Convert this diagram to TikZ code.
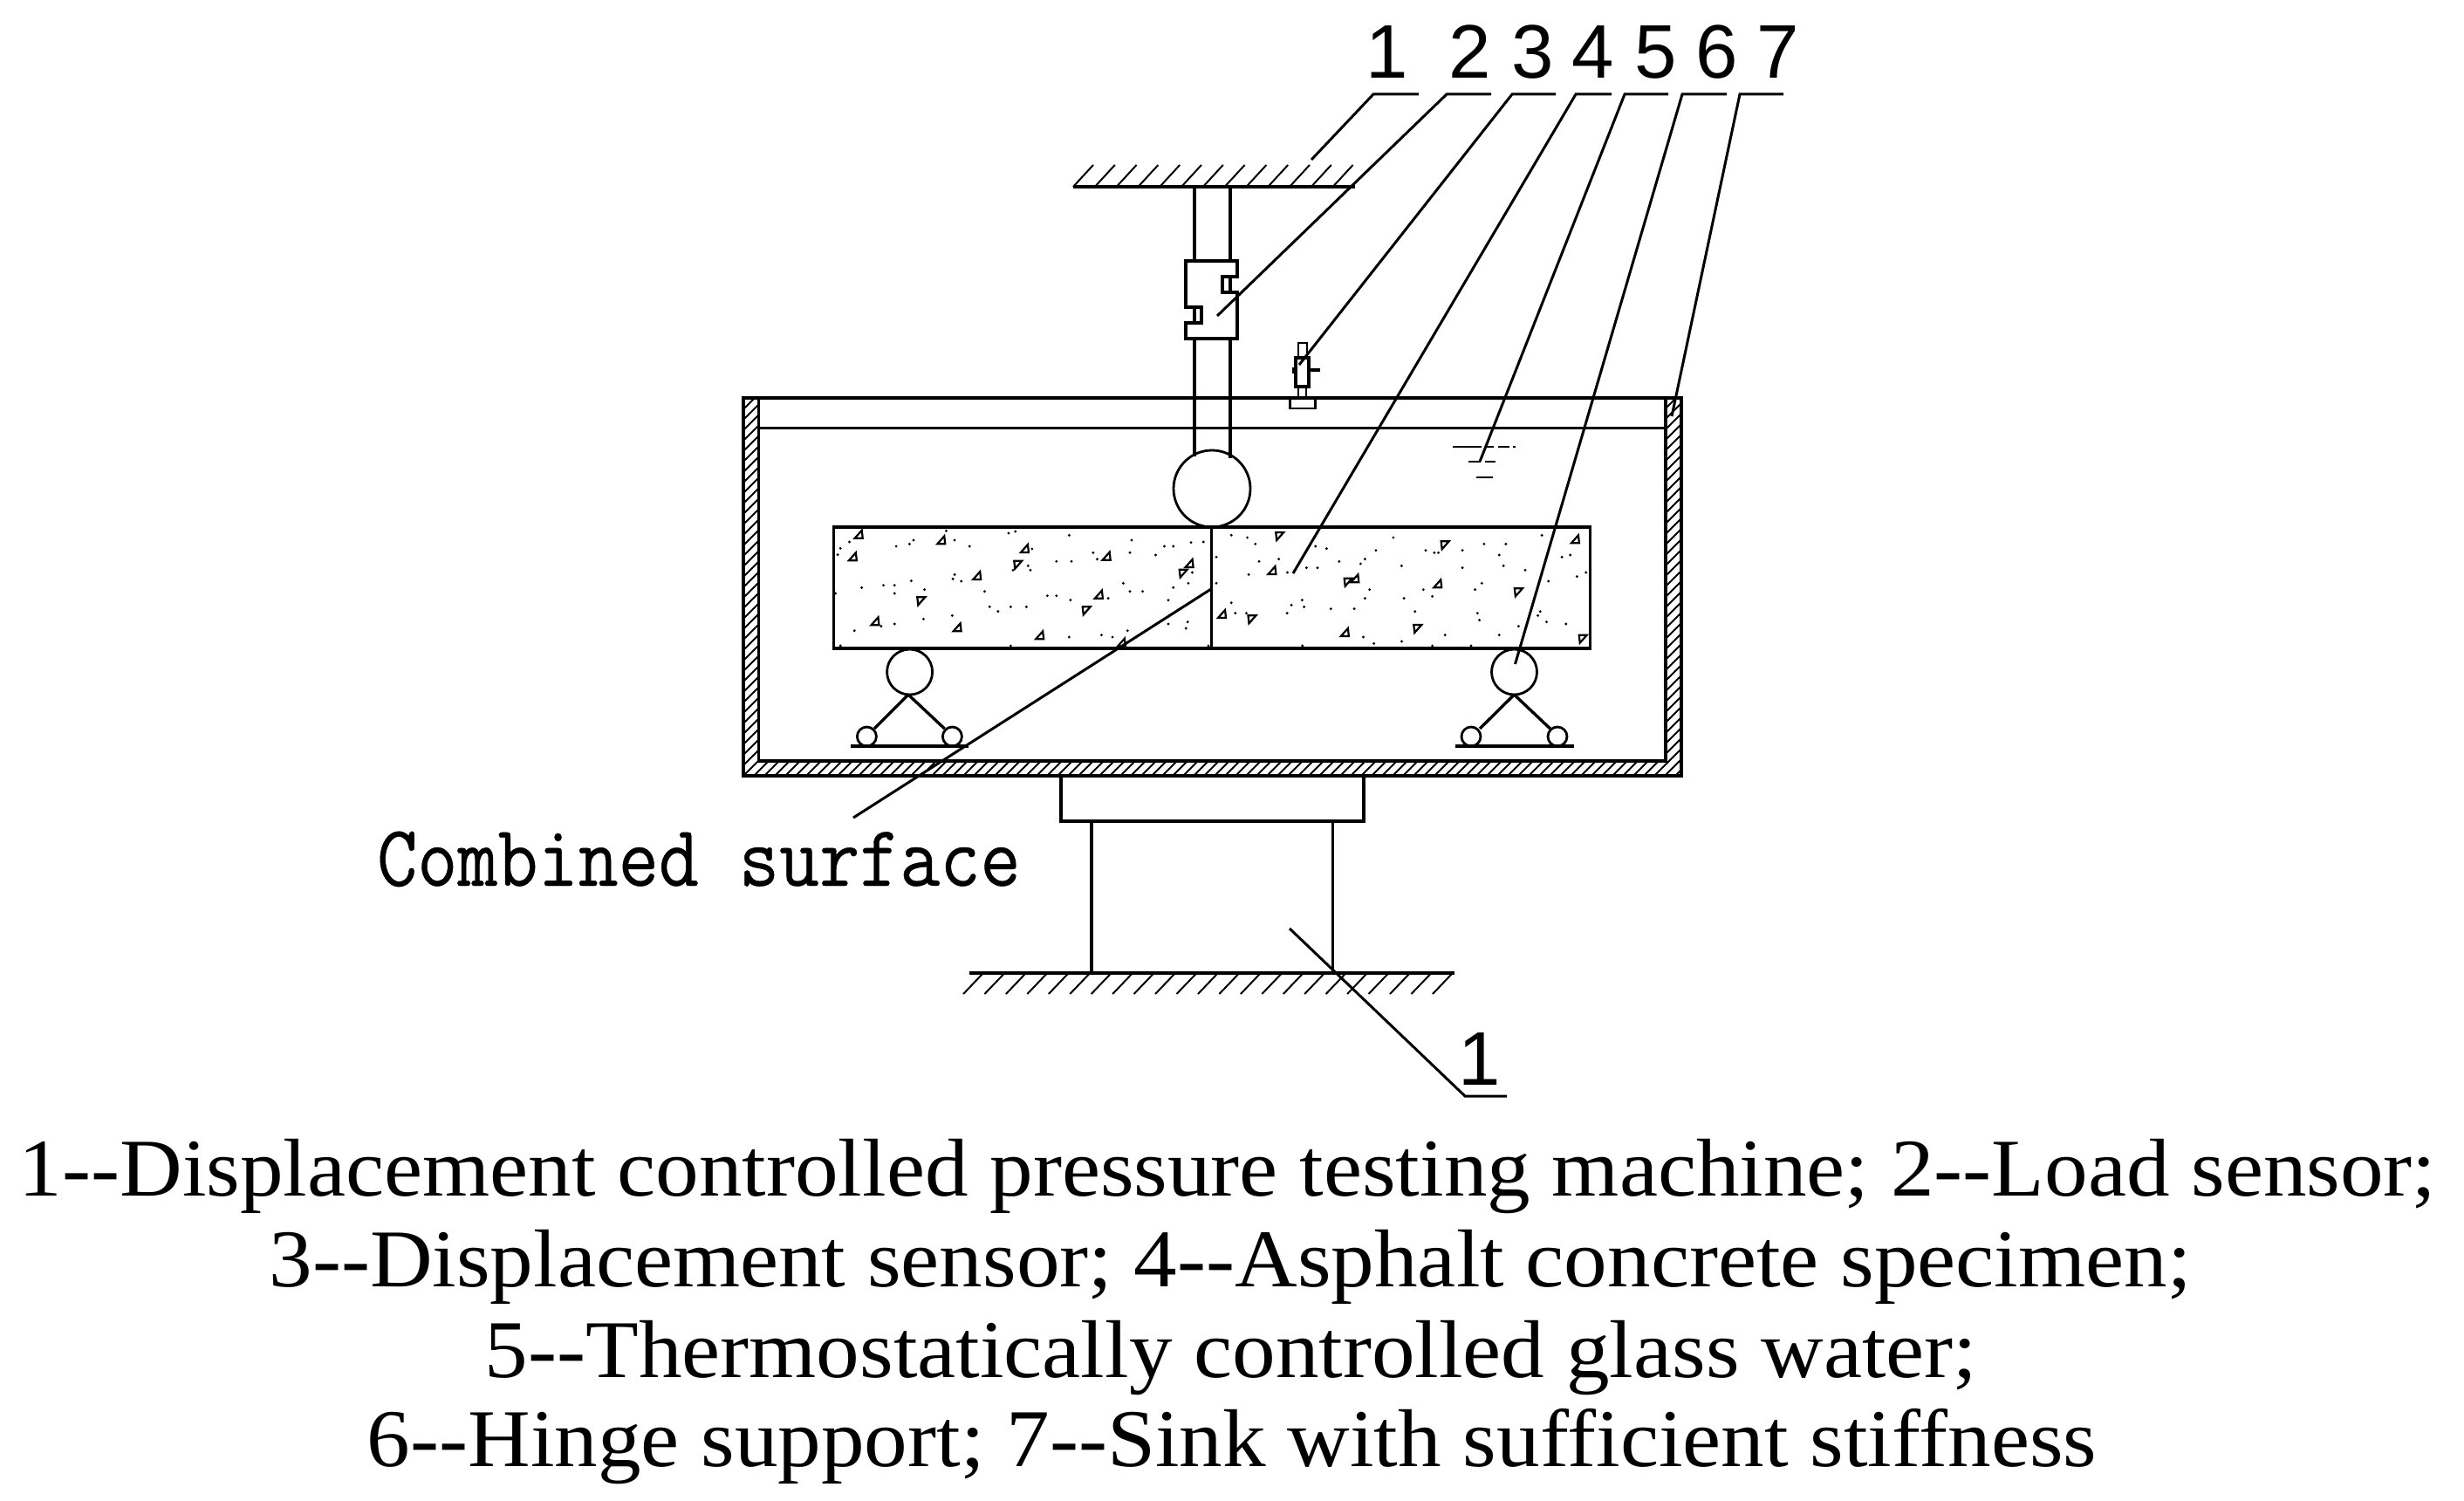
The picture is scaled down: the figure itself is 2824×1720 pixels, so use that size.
\documentclass[tikz,border=0pt]{standalone}
\usepackage{fontspec}
\setmainfont[FakeStretch=1.055]{Liberation Serif}
\newfontfamily\digitfont{Liberation Sans}
\newfontfamily\combofont[FakeStretch=0.895,FakeBold=0.4]{Latin Modern Mono}
\tikzset{
  main/.style={line width=3.4pt,black},
  thin/.style={line width=2.8pt,black},
  leader/.style={line width=3pt,black},
  hatch/.style={line width=2pt,black},
  speck/.style={line width=2.2pt,black},
  digit/.style={inner sep=0pt,anchor=base,font=\fontsize{87pt}{87pt}\digitfont},
  caption/.style={inner sep=0pt,anchor=base,font=\fontsize{94pt}{94pt}\selectfont},
  combo/.style={inner sep=0pt,anchor=base west,font=\fontsize{100pt}{100pt}\combofont},
}
\begin{document}
\begin{tikzpicture}[x=1pt,y=-1pt]
\useasboundingbox (0,0) rectangle (2824,1720);
% ---- labels
\node[digit] (n1) at (1590,90) {1};
\node[digit] (n2) at (1685,90) {2};
\node[digit] (n3) at (1757,90) {3};
\node[digit] (n4) at (1826,90) {4};
\node[digit] (n5) at (1898,90) {5};
\node[digit] (n6) at (1968,90) {6};
\node[digit] (n7) at (2038,90) {7};
\node[digit] (n1b) at (1696,1243) {1};
\node[combo] (combined) at (432,1015) {Combined surface};
\node[caption] (c1) at (1407,1370) {1-{}-Displacement controlled pressure testing machine; 2-{}-Load sensor;};
\node[caption] (c2) at (1410,1474) {3-{}-Displacement sensor; 4-{}-Asphalt concrete specimen;};
\node[caption] (c3) at (1411,1578) {5-{}-Thermostatically controlled glass water;};
\node[caption] (c4) at (1412,1680) {6-{}-Hinge support; 7-{}-Sink with sufficient stiffness};
% ---- ceiling
\draw[line width=4pt] (1230,214) -- (1553,214);
\foreach \i in {0,...,12} \draw[hatch] ({1230+24.8*\i},214) -- ({1253+24.8*\i},189);
% ---- rod and load sensor
\draw[main] (1369,214) -- (1369,523);
\draw[main] (1410,214) -- (1410,525);
\draw[main,fill=white] (1359,299) -- (1418,299) -- (1418,317) -- (1401,317) -- (1401,335) -- (1418,335) -- (1418,388) -- (1359,388) -- (1359,370) -- (1377,370) -- (1377,352) -- (1359,352) -- cycle;
% ---- displacement sensor
\draw[thin] (1488,393) rectangle (1498,410);
\draw[main] (1485,410) rectangle (1500,443);
\draw[main] (1483,421) -- (1483,428);
\draw[main] (1500,424) -- (1513,424);
\draw[thin] (1488,443) -- (1488,456);
\draw[thin] (1497,443) -- (1497,456);
\draw[thin] (1478.5,456) rectangle (1507.5,468);
% ---- tank walls with hatching
\begin{scope}
\clip (852,456) rectangle (869.5,889) (852,872) rectangle (1927,889) (1909,456) rectangle (1927,889);
\foreach \i in {-40,...,95} \draw[hatch] ({852+12*\i},889) -- +(440,-440);
\end{scope}
\draw[line width=4.2pt] (852,456) -- (852,889) -- (1927,889) -- (1927,456) -- cycle;
\draw[main] (869.5,456) -- (869.5,872) -- (1909,872) -- (1909,456);
\draw[main] (869.5,490.7) -- (1909,490.7);
% ---- water mark
\draw[thin] (1665,512) -- (1698,512) (1702,512) -- (1712,512) (1717,512) -- (1730,512) (1734,512) -- (1737,512);
\draw[thin] (1683,529) -- (1697,529) (1702,529) -- (1714,529);
\draw[thin] (1692,547) -- (1711,547);
% ---- load ball
\draw[thin] (1389,560) circle (44);
% ---- specimen
\draw[line width=3.6pt] (955.5,604) rectangle (1822.6,743);
\draw[main] (1388.7,604) -- (1388.7,743);
\fill[black] \foreach \X/\Y in {375/603,348/625,340/647,515/618,555/610,567/597,690/597,735/618,665/565,852/573,872/567,922/627,1033/580,1220/597,1215/640,1105/640,1117/662,1292/648,1318/618,1345/618,1398/605,1435/603,995/670,1040/670,865/700,910/685,917/700,690/715,685/730,710/738,560/737,477/752,510/752,412/760,510/780,600/767,333/780,780/773,968/788,995/788,1037/803,1150/797,1195/745,1215/773,1253/773,1345/760,1390/745,1402/708,1330/803,795/826,820/842,858/826,905/826,683/856,597/868,470/893,510/885,390/908,1033/930,1130/923,1163/930,1208/908,1330/885,1388/878,1383/900,348/960,858/960,1450/960} {({830+\X/2.613},{420+\Y/3}) circle (1.6)};
\fill[black] \foreach \X/\Y in {160/580,208/588,232/610,115/655,243/670,302/662,212/715,115/745,328/708,412/618,445/626,385/692,418/692,483/670,547/678,560/662,593/632,645/588,670/685,742/632,768/640,780/640,852/632,917/610,982/610,962/648,975/685,852/692,1040/700,1090/580,1150/655,1175/648,1222/708,1195/722,1110/738,910/745,890/767,735/767,762/790,677/797,574/767,560/797,372/803,340/820,378/826,327/848,458/833,528/833,160/812,172/848,205/848,710/842,897/848,903/872,1085/842,1078/856,1104/878,1162/885,1020/893,962/923,800/923,670/945,587/952,555/930,373/960,762/960,878/960} {({1350+\X/2.613},{420+\Y/3}) circle (1.6)};
\foreach \X/\Y/\R in {403/578/0,650/598/0,385/655/0,900/627/0,880/680/180,757/720/0,1145/653/0,1393/678/0,1375/710/180,1122/785/0,590/805/180,1085/838/180,452/877/0,698/898/0,945/925/0,1190/950/0}
  \draw[speck,rotate around={\R:({830+\X/2.613},{420+\Y/3})}] ({830+\X/2.613-4.5},{420+\Y/3+4}) -- ++(9,0) -- ++(-1,-9) -- cycle;
\foreach \X/\Y/\R in {305/582/180,282/702/0,800/613/180,530/730/0,510/740/180,778/748/0,1020/775/180,1190/595/0,132/852/0,222/868/180,500/915/0,718/900/180,1213/935/180}
  \draw[speck,rotate around={\R:({1350+\X/2.613},{420+\Y/3})}] ({1350+\X/2.613-4.5},{420+\Y/3+4}) -- ++(9,0) -- ++(-1,-9) -- cycle;
% ---- left support
\draw[thin] (1042.6,770) circle (26);
\coordinate (lt) at (1041,796);
\draw[main] (lt) -- (1002,835);
\draw[main] (lt) -- (1082.6,835);
\draw[thin] (993.4,844) circle (11);
\draw[thin] (1091.4,844) circle (11);
\draw[line width=3.6pt] (974.7,855) -- (1110,855);
% ---- right support
\draw[thin] (1735.5,770) circle (26);
\coordinate (rt) at (1735.4,796);
\draw[main] (rt) -- (1696,835);
\draw[main] (rt) -- (1776.7,835);
\draw[thin] (1686,844) circle (11);
\draw[thin] (1785,844) circle (11);
\draw[line width=3.6pt] (1667.6,855) -- (1803.5,855);
% ---- pedestal and floor
\draw[main] (1216,889) -- (1216,941) -- (1563,941) -- (1563,889);
\draw[main] (1251,941) -- (1251,1115);
\draw[main] (1527.5,941) -- (1527.5,1115);
\draw[line width=4pt] (1111,1115) -- (1667,1115);
\foreach \i in {0,...,22} \draw[hatch] ({1104+24.45*\i},1139) -- ({1127+24.45*\i},1115);
% ---- leaders
\coordinate (a1) at (1626,108); \coordinate (b1) at (1574,108); \coordinate (e1) at (1503,183);
\coordinate (a2) at (1709,108); \coordinate (b2) at (1658,108); \coordinate (e2) at (1395,362);
\coordinate (a3) at (1783,108); \coordinate (b3) at (1733,108); \coordinate (e3) at (1489,418);
\coordinate (a4) at (1847,108); \coordinate (b4) at (1806,108); \coordinate (e4) at (1482,657);
\coordinate (a5) at (1912,108); \coordinate (b5) at (1862,108); \coordinate (e5) at (1696,529);
\coordinate (a6) at (1979,108); \coordinate (b6) at (1928,108); \coordinate (e6) at (1736.5,761);
\coordinate (a7) at (2044,108); \coordinate (b7) at (1994,108); \coordinate (e7) at (1916,477);
\foreach \k in {1,...,7} \draw[leader] (a\k) -- (b\k) -- (e\k);
\coordinate (a8) at (1727,1256); \coordinate (b8) at (1679,1256); \coordinate (e8) at (1478,1064);
\draw[leader] (a8) -- (b8) -- (e8);
\coordinate (e9) at (1388,675); \coordinate (b9) at (978,937);
\draw[leader] (e9) -- (b9);
\end{tikzpicture}
\end{document}
